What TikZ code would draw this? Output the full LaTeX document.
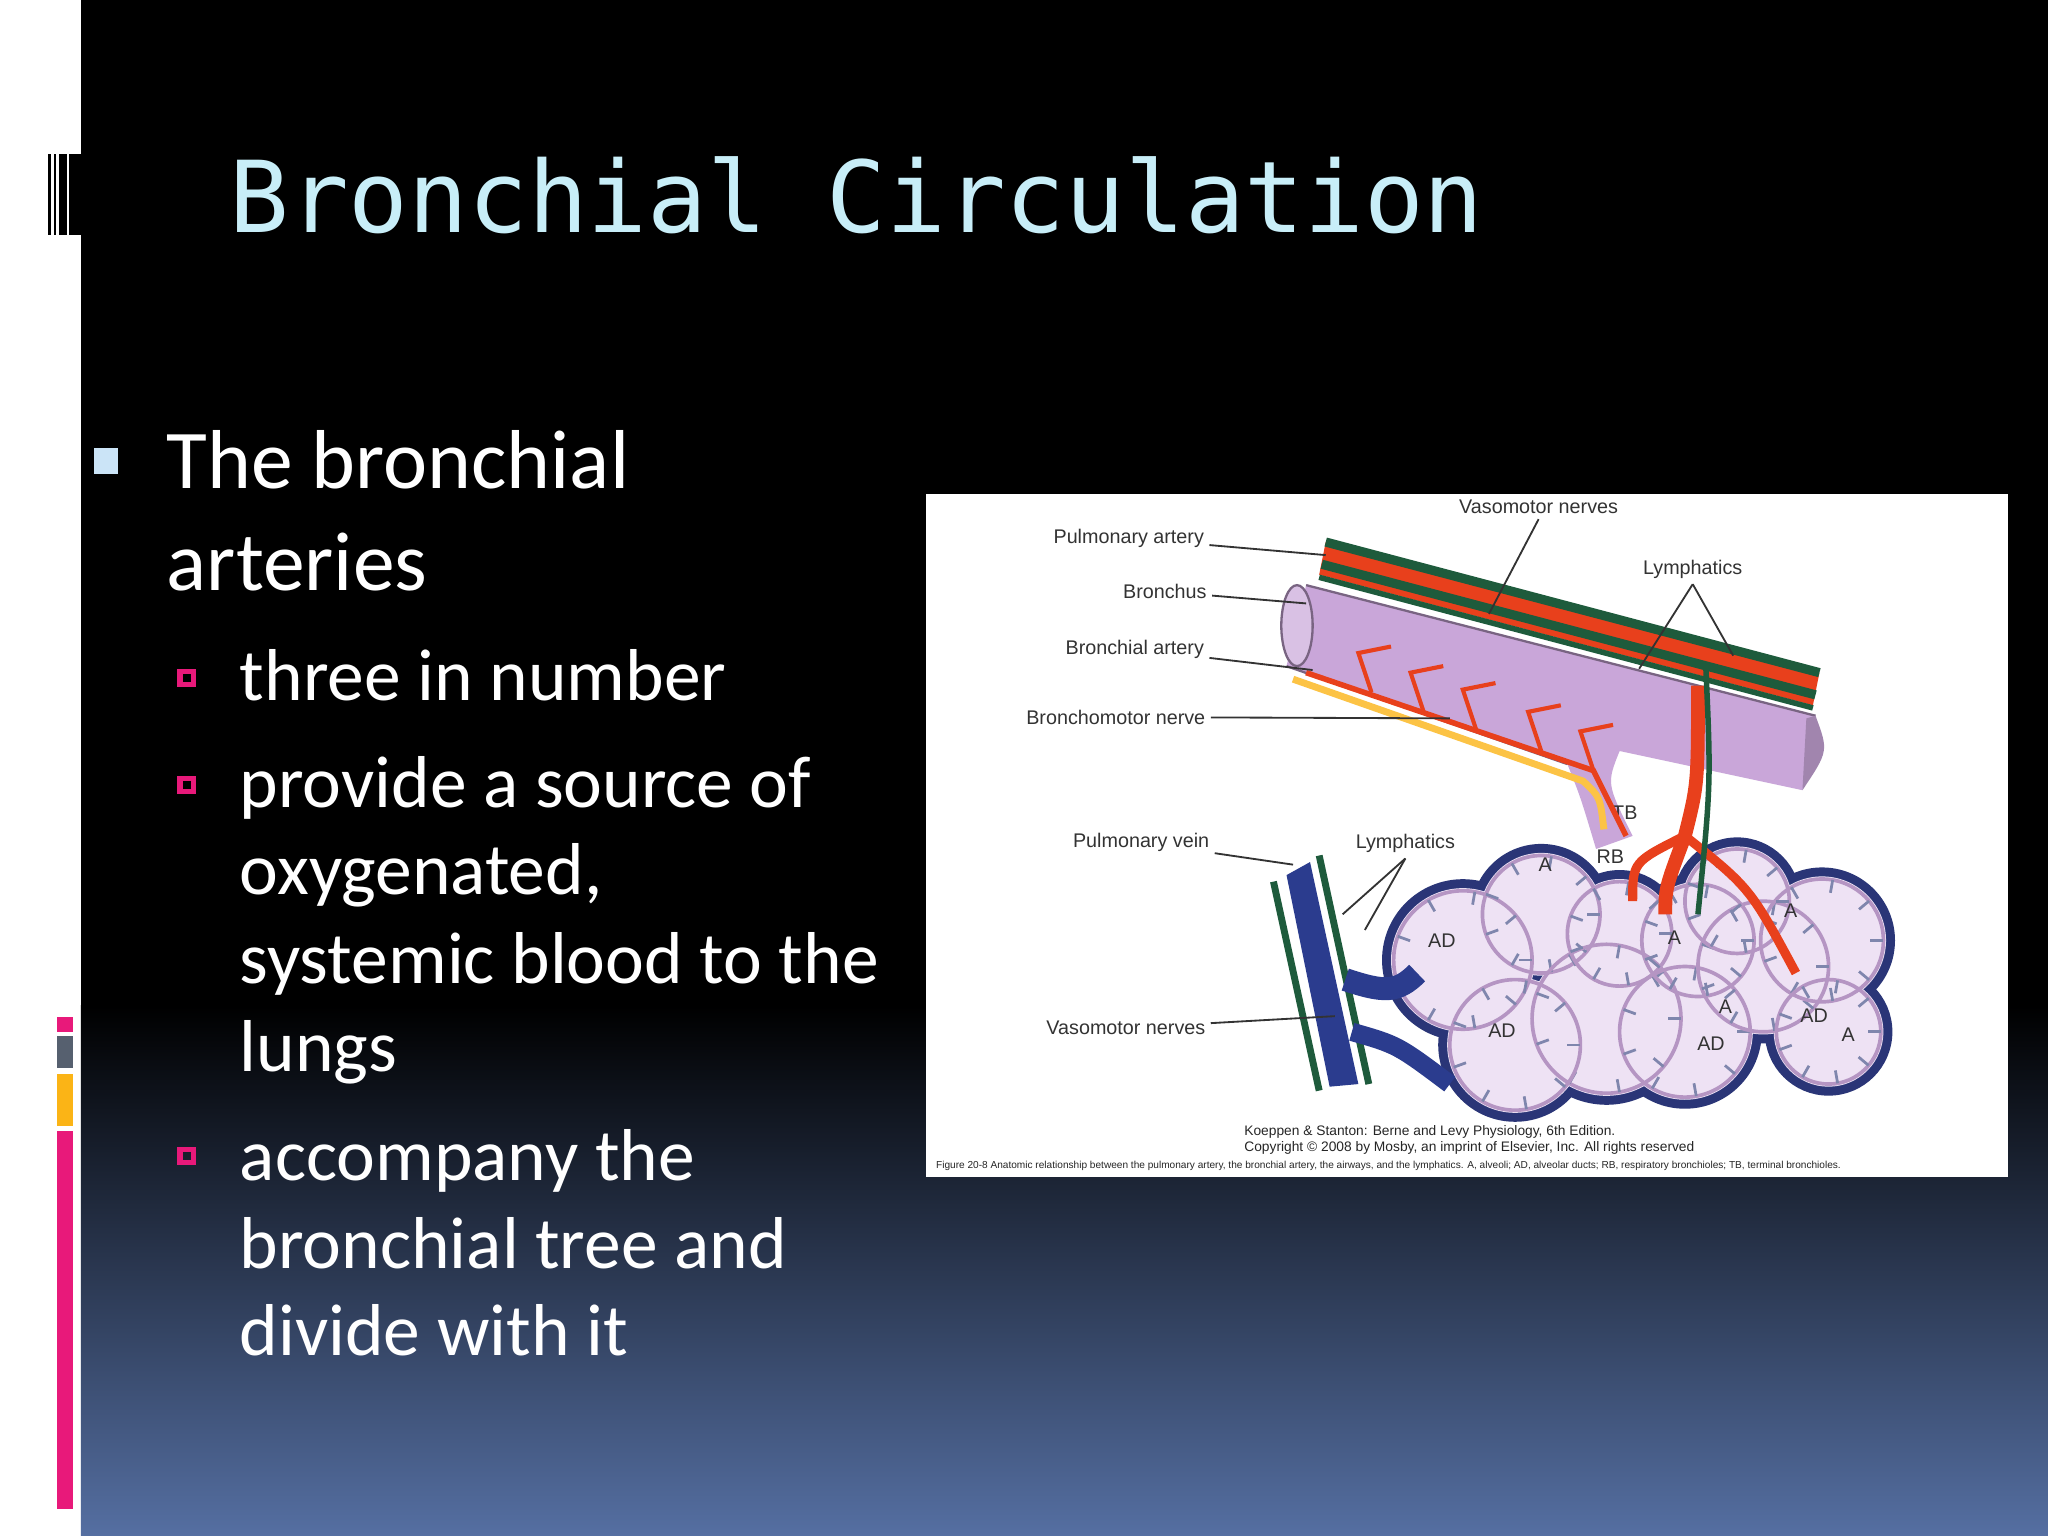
\documentclass[tikz,border=0pt]{standalone}
\usepackage{fontspec}
\setmainfont{Carlito}
\newfontfamily\monof{DejaVu Sans Mono}
\newfontfamily\labf{Liberation Sans}
\definecolor{titc}{HTML}{C8EEF8}
\definecolor{pinkc}{HTML}{E8197A}
\definecolor{grayc}{HTML}{56606F}
\definecolor{yelc}{HTML}{FBB416}
\definecolor{bulc}{HTML}{CBE4F7}
\definecolor{botc}{HTML}{556FA2}
\definecolor{artred}{HTML}{E8401C}
\definecolor{nervg}{HTML}{1E5B3C}
\definecolor{brfill}{HTML}{C9A6D9}
\definecolor{alvfill}{HTML}{EEE2F4}
\definecolor{alvline}{HTML}{2A3577}
\definecolor{veinb}{HTML}{2B3C8E}
\begin{document}
\begin{tikzpicture}[x=0.01cm,y=-0.01cm,
  mainline/.style={anchor=base west,text=white,font=\fontsize{18.2}{21}\selectfont,inner sep=0},
  subline/.style={anchor=base west,text=white,font=\fontsize{16}{19}\selectfont,inner sep=0},
  subbul/.style={draw=pinkc,line width=1.2pt,minimum size=0.1cm,inner sep=0},
  lab/.style={font=\labf\fontsize{4.3}{5}\selectfont,text=black!80,inner sep=1pt},
  lead/.style={draw=black!80,line width=0.4pt},
  alv/.style={draw=alvline,line width=2.2pt,fill=alvfill},
  sm/.style={text=black!85,inner sep=0}]
\useasboundingbox (0,0) rectangle (1568,1176);
% background
\fill[white] (0,0) rectangle (62,1176);
\fill[black] (62,0) rectangle (1568,770);
\shade[top color=black,bottom color=botc] (62,770) rectangle (1568,1176);
% barcode
\foreach \a/\b in {37/39,41/43,45/51,53/62}{\fill[black] (\a,118) rectangle (\b,180);}
% colour bars
\fill[pinkc] (44,779) rectangle (56,790);
\fill[grayc] (44,793) rectangle (56,818);
\fill[yelc] (44,822) rectangle (56,862);
\fill[pinkc] (44,866) rectangle (56,1155);
% title
\node[anchor=base west,inner sep=0,text=titc,font=\monof\fontsize{21.6}{26}\selectfont] (title) at (175,178) {Bronchial Circulation};
% bullets
\fill[bulc] (72,343) rectangle (90,363);
\node[mainline] (m1) at (127,374) {The bronchial};
\node[mainline] (m2) at (127,452) {arteries};
\node[subbul] (b1) at (143,519) {};
\node[subline] (s1) at (183,536) {three in number};
\node[subbul] (b2) at (143,601) {};
\node[subline] (s2) at (183,618) {provide a source of};
\node[subline] (s3) at (183,685) {oxygenated,};
\node[subline] (s4) at (183,753) {systemic blood to the};
\node[subline] (s5) at (183,820) {lungs};
\node[subbul] (b3) at (143,885) {};
\node[subline] (s6) at (183,904) {accompany the};
\node[subline] (s7) at (183,971) {bronchial tree and};
\node[subline] (s8) at (183,1038) {divide with it};
% figure
\fill[white] (709,378) rectangle (1537,901);
% alveoli
\def\alvlist{1120/735/58,1180/700/50,1230/780/62,1160/800/55,1290/790/55,1350/740/55,1395/720/52,1400/790/45,1300/720/48,1240/715/45,1330/690/45}
\foreach \cx/\cy/\r in \alvlist{\draw[alv] (\cx,\cy) circle (\r);}
\foreach \cx/\cy/\r in \alvlist{\fill[alvfill] (\cx,\cy) circle (\r-3);}
\foreach \cx/\cy/\r in \alvlist{
  \draw[brfill!90!black,line width=0.8pt] (\cx,\cy) circle (\r-5);
  \foreach \t in {0,40,...,320}{\draw[alvline!60,line width=0.6pt] (\cx,\cy) ++(\t:\r-5) -- ++(\t:-10);}}
% pulmonary vein
\fill[veinb] (985,670) -- (1003,660) -- (1040,830) -- (1018,832) -- cycle;
\draw[nervg,line width=1.5pt] (975,675) -- (1010,835);
\draw[nervg,line width=1.5pt] (1010,655) -- (1048,830);
\draw[veinb,line width=5pt] (1030,750) .. controls (1060,760) and (1070,760) .. (1085,745);
\draw[veinb,line width=4pt] (1035,790) .. controls (1070,800) .. (1110,830);
% bronchus
\fill[brfill] (1000,448) -- (1390,548) -- (1380,605) -- (1240,575) .. controls (1230,600) .. (1250,640) -- (1222,650) .. controls (1210,610) .. (1200,585) -- (985,510) -- cycle;
\draw[brfill!60!black,line width=0.5pt] (1000,448) -- (1390,548);
\draw[brfill!60!black,line width=0.5pt] (985,510) -- (1200,585);
\filldraw[fill=brfill!70,draw=brfill!60!black,line width=0.5pt] (993,479) ellipse (12 and 31);
\fill[brfill!80!black] (1390,548) .. controls (1400,575) .. (1380,605) -- (1383,550) -- cycle;
\node[lab] (tb) at (1244,622) {TB};
\node[lab] (rb) at (1233,656) {RB};
% bronchial artery branches
\draw[artred,line width=1.2pt] (1000,515) -- (1220,590) -- (1245,640);
\foreach \x/\y in {1040/500,1080/515,1120/528,1170/545,1210/560}{\draw[artred,line width=0.9pt] (\x+10,\y+30) -- (\x,\y) -- (\x+25,\y-5);}
% bronchomotor nerve
\draw[yelc!80,line width=1.5pt] (990,520) -- (1212,598) .. controls (1225,610) .. (1228,635);
% pulmonary artery
\fill[artred] (1015,415) -- (1393,515) -- (1388,540) -- (1010,440) -- cycle;
\draw[nervg,line width=2pt] (1015,415) -- (1393,515);
\draw[nervg,line width=2pt] (1012,432) -- (1390,532);
\draw[nervg,line width=1.2pt] (1010,442) -- (1388,542);
% descending bronchial artery / lymphatics
\draw[artred,line width=3pt] (1300,525) .. controls (1300,600) .. (1290,640) .. controls (1275,680) .. (1275,700);
\draw[artred,line width=2pt] (1290,640) .. controls (1250,660) .. (1250,690);
\draw[artred,line width=2pt] (1290,640) .. controls (1340,680) .. (1375,745);
\draw[nervg,line width=1.2pt] (1306,510) .. controls (1310,600) .. (1300,700);
% labels
\node[lab] (vn1) at (1178,388) {Vasomotor nerves};
\draw[lead] (vn1.south) -- (1140,470);
\node[lab,anchor=east] (pa) at (926,412) {Pulmonary artery};
\draw[lead] (pa) -- (1015,425);
\node[lab] (ly1) at (1296,436) {Lymphatics};
\draw[lead] (ly1.south) -- (1255,512);
\draw[lead] (ly1.south) -- (1327,502);
\node[lab,anchor=east] (br) at (928,453) {Bronchus};
\draw[lead] (br) -- (1000,462);
\node[lab,anchor=east] (ba) at (926,497) {Bronchial artery};
\draw[lead] (ba) -- (1005,513);
\node[lab,anchor=east] (bn) at (927,549) {Bronchomotor nerve};
\draw[lead] (bn) -- (1110,550);
\node[lab,anchor=east] (pv) at (930,645) {Pulmonary vein};
\draw[lead] (pv) -- (990,662);
\node[lab] (ly2) at (1076,646) {Lymphatics};
\draw[lead] (ly2.south) -- (1028,700);
\draw[lead] (ly2.south) -- (1045,712);
\node[lab,anchor=east] (vn2) at (927,787) {Vasomotor nerves};
\draw[lead] (vn2) -- (1022,778);
\node[lab] (a1) at (1183,662) {A};
\node[lab] (ad1) at (1104,720) {AD};
\node[lab] (a2) at (1282,718) {A};
\node[lab] (a3) at (1371,697) {A};
\node[lab] (ad2) at (1150,789) {AD};
\node[lab] (a4) at (1321,771) {A};
\node[lab] (ad3) at (1310,799) {AD};
\node[lab] (ad4) at (1389,778) {AD};
\node[lab] (a5) at (1415,792) {A};
% caption
\node[sm,anchor=west,font=\labf\fontsize{3}{4}\selectfont] (c1) at (952,867) {Koeppen \& Stanton: Berne and Levy Physiology, 6th Edition.};
\node[sm,anchor=west,font=\labf\fontsize{3}{4}\selectfont] (c2) at (952,879) {Copyright \copyright\ 2008 by Mosby, an imprint of Elsevier, Inc. All rights reserved};
\node[sm,anchor=west,font=\labf\fontsize{2.2}{3}\selectfont] (c3) at (716,893) {Figure 20-8 Anatomic relationship between the pulmonary artery, the bronchial artery, the airways, and the lymphatics. A, alveoli; AD, alveolar ducts; RB, respiratory bronchioles; TB, terminal bronchioles.};
\end{tikzpicture}
\end{document}
